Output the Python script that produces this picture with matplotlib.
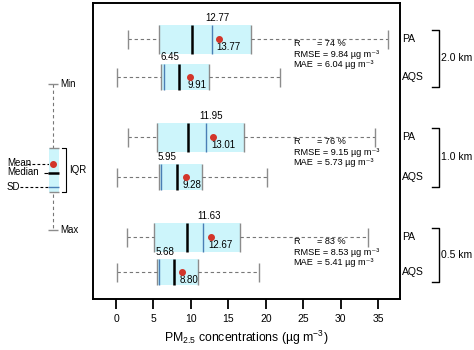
import matplotlib
matplotlib.use("Agg")
import matplotlib.pyplot as plt

plt.rcParams["font.family"] = ["Liberation Sans", "DejaVu Sans"]
plt.rcParams["mathtext.fontset"] = "custom"
plt.rcParams["mathtext.rm"] = "Liberation Sans"
plt.rcParams["mathtext.it"] = "Liberation Sans:italic"

# data, top group first
dist = ["2.0 km", "1.0 km", "0.5 km"]
pa_min = [1.56, 1.64, 1.51]
pa_q1 = [5.73, 5.42, 5.11]
pa_med = [10.2, 9.64, 9.42]
pa_q3 = [17.96, 17.07, 16.53]
pa_max = [36.3, 34.6, 33.6]
pa_sd = [12.77, 11.95, 11.63]
pa_mean = [13.77, 13.01, 12.67]
aqs_min = [0.1, 0.1, 0.1]
aqs_q1 = [5.96, 5.69, 5.51]
aqs_med = [8.44, 8.09, 7.73]
aqs_q3 = [12.36, 11.47, 10.98]
aqs_max = [21.9, 20.2, 19.1]
aqs_sd = [6.45, 5.95, 5.68]
aqs_mean = [9.91, 9.28, 8.80]
r_pct = [74, 76, 83]
rmse = [9.84, 9.15, 8.53]
mae = [6.04, 5.73, 5.41]

pa_pos = [7.13, 4.55, 1.92]
aqs_pos = [6.13, 3.5, 1.0]

box_fill = "#cdf5fb"
grey = "#8c8c8c"
blue = "#4a7fb5"
red = "#d3352a"

fig = plt.figure(figsize=(4.74, 3.5), dpi=100)
ax = fig.add_axes([93 / 474, 51 / 350, 307 / 474, 296 / 350])


def draw_box(y, h, lo, q1, med, q3, hi, sd, mean):
    ax.barh(y, q3 - q1, left=q1, height=h, color=box_fill, edgecolor="none", zorder=1)
    ax.vlines([q1, q3], y - h / 2, y + h / 2, color=grey, lw=1, zorder=2)
    ax.hlines(y, lo, q1, color="#777777", lw=0.8, linestyles=(0, (3, 2.5)), zorder=2)
    ax.hlines(y, q3, hi, color="#777777", lw=0.8, linestyles=(0, (3, 2.5)), zorder=2)
    ax.vlines([lo, hi], y - 0.25, y + 0.25, color=grey, lw=1, zorder=2)
    ax.vlines(med, y - h / 2, y + h / 2, color="black", lw=1.8, zorder=3)
    ax.vlines(sd, y - h / 2, y + h / 2, color=blue, lw=1, zorder=3)
    ax.plot(mean, y, "o", color=red, ms=4, zorder=4)
    ax.text(sd + 0.8, y + h / 2 + 0.04, f"{sd:.2f}", ha="center", va="bottom", fontsize=7)
    ax.text(mean - 0.35, y - 0.08, f"{mean:.2f}", ha="left", va="top", fontsize=7)


for i in range(3):
    draw_box(pa_pos[i], 0.76, pa_min[i], pa_q1[i], pa_med[i], pa_q3[i], pa_max[i], pa_sd[i], pa_mean[i])
    draw_box(aqs_pos[i], 0.7, aqs_min[i], aqs_q1[i], aqs_med[i], aqs_q3[i], aqs_max[i], aqs_sd[i], aqs_mean[i])

    y = pa_pos[i]
    fs = 6.6
    ax.text(23.7, y - 0.12, "R", fontsize=fs, va="center")
    ax.text(26.8, y - 0.12, f"= {r_pct[i]} %", fontsize=fs, va="center")
    ax.text(23.7, y - 0.40, f"RMSE = {rmse[i]:.2f} µg m⁻³", fontsize=fs, va="center")
    ax.text(23.7, y - 0.68, "MAE", fontsize=fs, va="center")
    ax.text(26.8, y - 0.68, f"= {mae[i]:.2f} µg m⁻³", fontsize=fs, va="center")

    tr = ax.get_yaxis_transform()
    ax.text(1.006, pa_pos[i], "PA", transform=tr, fontsize=7.5, va="center", clip_on=False)
    ax.text(1.006, aqs_pos[i], "AQS", transform=tr, fontsize=7.5, va="center", clip_on=False)
    top = pa_pos[i] + 0.25
    bot = aqs_pos[i] - 0.25
    ax.plot([1.104, 1.127, 1.127, 1.104], [top, top, bot, bot], transform=tr,
            color="black", lw=1, clip_on=False)
    ax.text(1.134, (top + bot) / 2, dist[i], transform=tr, fontsize=7.5, va="center", clip_on=False)

ax.set_xlim(-3.07, 37.9)
ax.set_ylim(0.29, 8.08)
ax.set_yticks([])
ax.set_xticks(range(0, 36, 5))
ax.tick_params(axis="x", direction="out", length=7, width=1.3, pad=4, labelsize=7.5, colors="black")
for s in ax.spines.values():
    s.set_linewidth(1.4)
ax.set_xlabel("PM$_{2.5}$ concentrations (µg m$^{-3}$)", fontsize=8.8, labelpad=3)

# schematic legend on the left, in pixel coordinates
lg = fig.add_axes([0, 0, 1, 1], zorder=-1)
lg.set_xlim(0, 474)
lg.set_ylim(350, 0)
lg.axis("off")
lx = 53.3
lg.vlines(lx, 84, 230, color="#777777", lw=0.8, linestyles=(0, (3, 2.5)), zorder=1)
lg.hlines([84, 230], 48, 58, color=grey, lw=1)
lg.add_patch(plt.Rectangle((49, 148), 10, 44, facecolor=box_fill, edgecolor="none", zorder=3))
lg.hlines([148, 192], 49, 59, color=grey, lw=1, zorder=4)
lg.hlines(173, 48, 59, color="black", lw=1.8, zorder=4)
lg.hlines(187, 48, 59, color=blue, lw=1, zorder=4)
lg.plot(lx, 164, "o", color=red, ms=4, zorder=5)
lg.text(60, 84, "Min", fontsize=7, va="center")
lg.text(60, 230, "Max", fontsize=7, va="center")
lg.text(7, 163, "Mean", fontsize=7, va="center")
lg.text(7, 172, "Median", fontsize=7, va="center")
lg.text(7, 187, "SD", fontsize=7, va="center")
lg.hlines(164, 27, 50, color="black", lw=0.8, linestyles=(0, (2.5, 2)))
lg.hlines(173, 44, 48, color="black", lw=0.8)
lg.hlines(187, 20, 49, color="black", lw=0.8, linestyles=(0, (2.5, 2)))
lg.plot([62, 66, 66, 62], [148, 148, 192, 192], color="black", lw=0.8)
lg.text(69, 170, "IQR", fontsize=7, va="center")

fig.savefig("out.png", dpi=100)
